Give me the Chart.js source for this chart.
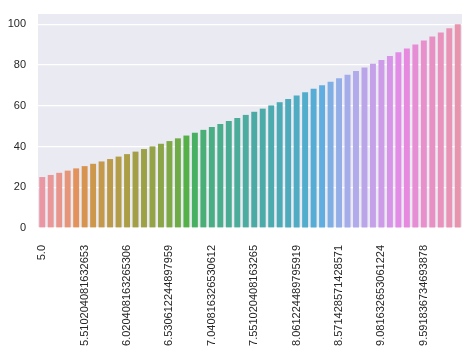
<!DOCTYPE html>
<html>
<head>
<meta charset="utf-8">
<script src="https://cdn.jsdelivr.net/npm/chart.js@4"></script>
<style>
  html, body { margin: 0; padding: 0; background: #fff; }
  #wrap { width: 474px; height: 353px; }
</style>
</head>
<body>
<div id="wrap"><canvas id="chart" width="474" height="353"></canvas></div>
<script>
// x values (linspace 5..10, 50 points), shown rounded
const categories = [
  '5.000', '5.102', '5.204', '5.306', '5.408', '5.510', '5.612', '5.714', '5.816', '5.918',
  '6.020', '6.122', '6.224', '6.327', '6.429', '6.531', '6.633', '6.735', '6.837', '6.939',
  '7.041', '7.143', '7.245', '7.347', '7.449', '7.551', '7.653', '7.755', '7.857', '7.959',
  '8.061', '8.163', '8.265', '8.367', '8.469', '8.571', '8.673', '8.776', '8.878', '8.980',
  '9.082', '9.184', '9.286', '9.388', '9.490', '9.592', '9.694', '9.796', '9.898', '10.000'
];

const values = [
  25.00, 26.03, 27.08, 28.15, 29.25, 30.36, 31.50, 32.65, 33.83, 35.03,
  36.25, 37.48, 38.74, 40.03, 41.33, 42.65, 43.99, 45.36, 46.74, 48.15,
  49.57, 51.02, 52.49, 53.98, 55.49, 57.02, 58.57, 60.14, 61.73, 63.35,
  64.98, 66.64, 68.31, 70.01, 71.73, 73.47, 75.23, 77.01, 78.81, 80.63,
  82.48, 84.34, 86.22, 88.13, 90.06, 92.00, 93.97, 95.96, 97.97, 100.00
];

// every 5th category gets a label
const xTickLabels = [
  '5.0', '5.510204081632653', '6.020408163265306', '6.530612244897959',
  '7.040816326530612', '7.551020408163265', '8.061224489795919',
  '8.571428571428571', '9.081632653061224', '9.591836734693878'
];

const yTicks = [0, 20, 40, 60, 80, 100];

// --- husl palette (seaborn style, l=.7), then desaturate 0.75 ---
const M = [
  [3.2406, -1.5372, -0.4986],
  [-0.9689, 1.8758, 0.0415],
  [0.0557, -0.2040, 1.0570]
];

function maxChroma(L, H) {
  const hrad = H * Math.PI / 180;
  const sinH = Math.sin(hrad), cosH = Math.cos(hrad);
  const sub1 = Math.pow(L + 16, 3) / 1560896.0;
  const sub2 = sub1 > 0.008856 ? sub1 : L / 903.3;
  let result = Infinity;
  for (const [m1, m2, m3] of M) {
    const top = (0.99915 * m1 + 1.05122 * m2 + 1.14460 * m3) * sub2;
    const rbottom = 0.86330 * m3 - 0.17266 * m2;
    const lbottom = 0.12949 * m3 - 0.38848 * m1;
    const bottom = (rbottom * sinH + lbottom * cosH) * sub2;
    for (const t of [0, 1]) {
      const C = L * (top - 1.05122 * t) / (bottom + 0.17266 * sinH * t);
      if (C > 0 && C < result) result = C;
    }
  }
  return result;
}

function fInv(t) {
  return Math.pow(t, 3) > 0.008856 ? Math.pow(t, 3) : (116 * t - 16) / 903.3;
}

function fromLinear(c) {
  return c <= 0.0031308 ? 12.92 * c : 1.055 * Math.pow(c, 1 / 2.4) - 0.055;
}

function huslToRgb(h, s, l) {
  const C = maxChroma(l, h) / 100 * s;
  const hr = h * Math.PI / 180;
  const U = Math.cos(hr) * C, V = Math.sin(hr) * C;
  const varY = fInv((l + 16) / 116);
  const varU = U / (13 * l) + 0.19784;
  const varV = V / (13 * l) + 0.46834;
  const Y = varY;
  const X = 0 - (9 * Y * varU) / ((varU - 4) * varV - varU * varV);
  const Z = (9 * Y - 15 * varV * Y - varV * X) / (3 * varV);
  return M.map(r => Math.min(1, Math.max(0, fromLinear(r[0] * X + r[1] * Y + r[2] * Z))));
}

function desaturate([r, g, b], prop) {
  // colorsys rgb->hls, scale s, back
  const mx = Math.max(r, g, b), mn = Math.min(r, g, b);
  const l = (mx + mn) / 2;
  if (mx === mn) return [r, g, b];
  let s = l <= 0.5 ? (mx - mn) / (mx + mn) : (mx - mn) / (2 - mx - mn);
  const rc = (mx - r) / (mx - mn), gc = (mx - g) / (mx - mn), bc = (mx - b) / (mx - mn);
  let h;
  if (r === mx) h = bc - gc;
  else if (g === mx) h = 2 + rc - bc;
  else h = 4 + gc - rc;
  h = ((h / 6) % 1 + 1) % 1;
  s *= prop;
  const m2 = l <= 0.5 ? l * (1 + s) : l + s - l * s;
  const m1 = 2 * l - m2;
  const v = (hue) => {
    hue = ((hue % 1) + 1) % 1;
    if (hue < 1 / 6) return m1 + (m2 - m1) * hue * 6;
    if (hue < 0.5) return m2;
    if (hue < 2 / 3) return m1 + (m2 - m1) * (2 / 3 - hue) * 6;
    return m1;
  };
  return [v(h + 1 / 3), v(h), v(h - 1 / 3)];
}

function huslPalette(n) {
  const out = [];
  for (let i = 0; i < n; i++) {
    const h = ((i / n + 0.01) % 1) * 359;
    const rgb = desaturate(huslToRgb(h, 0.9 * 99, 0.7 * 99), 0.75);
    out.push('rgb(' + rgb.map(c => Math.round(c * 255)).join(',') + ')');
  }
  return out;
}

const barColors = huslPalette(values.length);

const plotBg = {
  id: 'plotBg',
  beforeDraw(chart) {
    const { ctx, chartArea: a } = chart;
    ctx.save();
    ctx.fillStyle = '#eaeaf2';
    ctx.fillRect(a.left, a.top, a.right - a.left, a.bottom - a.top);
    ctx.restore();
  }
};

const tickFont = { family: 'Liberation Sans, Arial, sans-serif', size: 11 };

new Chart(document.getElementById('chart'), {
  type: 'bar',
  data: {
    labels: categories,
    datasets: [{
      data: values,
      backgroundColor: barColors,
      borderWidth: 0,
      barPercentage: 0.7,
      categoryPercentage: 1.0
    }]
  },
  options: {
    responsive: false,
    animation: false,
    layout: { padding: { left: 0, right: 12, top: 14, bottom: 0 } },
    plugins: { legend: { display: false }, tooltip: { enabled: false } },
    scales: {
      x: {
        offset: true,
        grid: { display: false },
        border: { display: false },
        afterFit: (scale) => {
          scale.height = 125;
          scale.paddingLeft = 0;
          scale.paddingRight = 0;
        },
        ticks: {
          autoSkip: false,
          minRotation: 90,
          maxRotation: 90,
          padding: 9,
          color: '#262626',
          font: tickFont,
          callback: (val, i) => (i % 5 === 0 ? xTickLabels[i / 5] : '')
        }
      },
      y: {
        min: 0,
        max: 105,
        grid: { color: '#ffffff', lineWidth: 1.2, drawTicks: false },
        border: { display: false },
        afterFit: (scale) => {
          scale.width = 38;
          scale.paddingTop = 0;
          scale.paddingBottom = 0;
        },
        afterBuildTicks: (scale) => { scale.ticks = yTicks.map(v => ({ value: v })); },
        ticks: {
          padding: 12,
          color: '#262626',
          font: tickFont
        }
      }
    }
  },
  plugins: [plotBg]
});
</script>
</body>
</html>
